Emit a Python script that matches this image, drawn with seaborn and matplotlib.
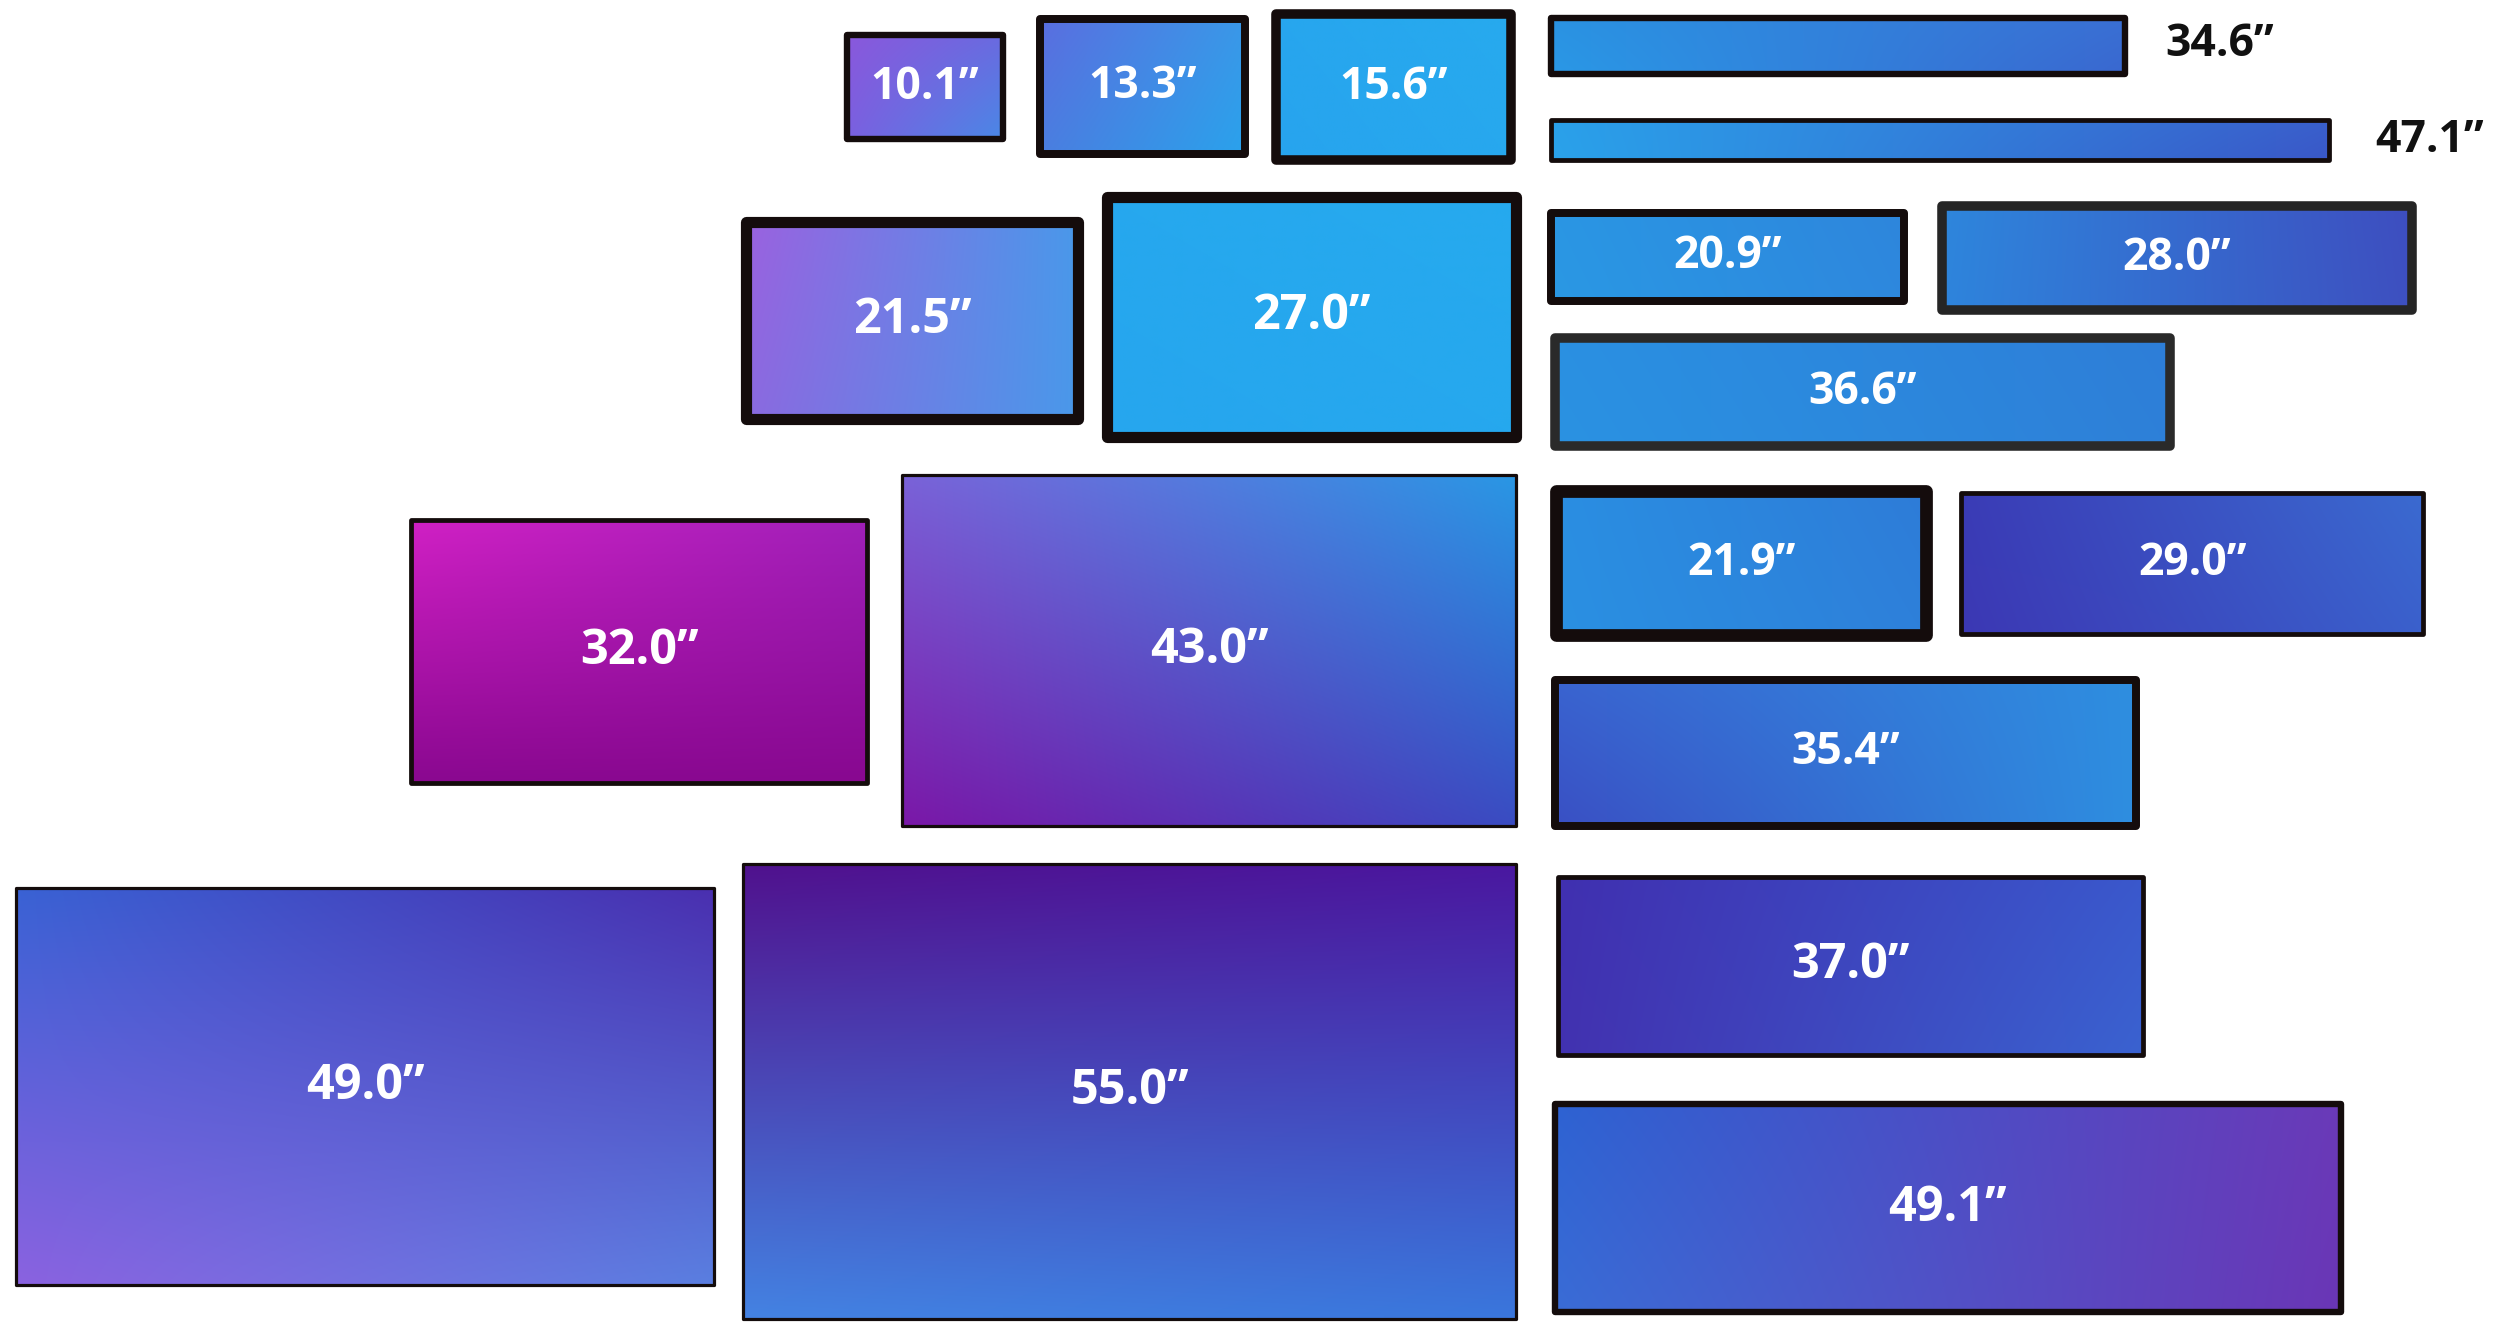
import numpy as np
import matplotlib
matplotlib.use("Agg")
import matplotlib.pyplot as plt
import seaborn as sns
from matplotlib.patches import Rectangle
from matplotlib.colors import to_rgb

sns.set_theme(style="white")
plt.rcParams['font.family'] = ['Open Sans', 'DejaVu Sans']

labels = ["10.1", "13.3", "15.6", "34.6", "47.1", "21.5", "27.0", "20.9", "28.0", "36.6",
          "21.9", "29.0", "32.0", "43.0", "35.4", "49.0", "55.0", "37.0", "49.1"]
x0 = [531, 652, 800, 973, 973, 468, 694, 973, 1218, 975, 976, 1230, 258, 566, 975, 10, 466, 977, 975]
y0 = [22, 12, 9, 11, 75, 139, 123, 133, 129, 211, 307, 308, 325, 297, 425, 555, 540, 548, 690]
x1 = [629, 781, 948, 1333, 1461, 676, 951, 1194, 1513, 1361, 1208, 1520, 544, 951, 1340, 448, 951, 1344, 1468]
y1 = [87, 96, 100, 46, 100, 262, 273, 188, 194, 279, 397, 396, 489, 516, 516, 803, 824, 659, 820]
border = [4, 5, 6, 4, 3, 7, 7, 5, 6, 6, 8, 3, 3, 2, 5, 2, 2, 3, 4]
edge = ["#140c0c"] * 8 + ["#252525", "#2a2a2a"] + ["#140c0c"] * 9
c_tl = ["#8a58dc", "#5a6ee0", "#27a6ee", "#2a92e2", "#2aa0ea", "#9a62e0", "#26a8ee", "#2a96e4", "#2e86dc", "#2a90e2",
        "#2a8ee2", "#3a3cb6", "#d020c4", "#7a62d8", "#3a64d0", "#3a62d4", "#50128e", "#4030b0", "#2e62d2"]
c_tr = ["#6a6ae0", "#3a98e8", "#27aaee", "#3a70d4", "#3a60cc", "#4a98ea", "#26aaee", "#2e86dc", "#3e4ec0", "#2e7ed8",
        "#2e7cd8", "#3a6ad0", "#a020b8", "#2a96e4", "#2e8ee0", "#4a30b0", "#4a18a0", "#3a58cc", "#6a3ab8"]
c_bl = ["#7a60e0", "#4a7ee0", "#27a4ee", "#2a98e6", "#2aa2ea", "#8a6ae0", "#26a6ee", "#2a98e4", "#2e84dc", "#2a92e2",
        "#2a90e2", "#3c38b4", "#8a0890", "#7a18a8", "#3a50c4", "#8a62e0", "#4482e2", "#4232b0", "#3a6cd6"]
c_br = ["#4a88e6", "#2aa2ec", "#27a8ee", "#3a68d0", "#3a58c8", "#4a98ea", "#26a8ee", "#2e88de", "#3e50c0", "#2e80d8",
        "#2e80da", "#3a60cc", "#880890", "#3a4cc2", "#2e8ee0", "#5a7ee0", "#3a76dc", "#3a62d0", "#6a36b6"]
outside = {"34.6": (1358, 28), "47.1": (1490, 88)}

fig = plt.figure(figsize=(25, 13.33), dpi=100)
ax = fig.add_axes([0, 0, 1, 1])
ax.set_xlim(0, 1568)
ax.set_ylim(833, 0)
ax.axis("off")

S = 1.594 / 1.389
n = 64
u = np.linspace(0, 1, n)
U, V = np.meshgrid(u, u)
for i, lab in enumerate(labels):
    tl, tr, bl, br = (np.array(to_rgb(c)) for c in (c_tl[i], c_tr[i], c_bl[i], c_br[i]))
    img = ((1 - U) * (1 - V))[..., None] * tl + (U * (1 - V))[..., None] * tr \
        + ((1 - U) * V)[..., None] * bl + (U * V)[..., None] * br
    ax.imshow(img, extent=(x0[i], x1[i], y1[i], y0[i]), origin="upper", aspect="auto",
              interpolation="bilinear", zorder=1)
    ax.add_patch(Rectangle((x0[i], y0[i]), x1[i] - x0[i], y1[i] - y0[i], fill=False,
                           edgecolor=edge[i], linewidth=border[i] * S, joinstyle="round", zorder=2))
    txt = lab + "\u201d"
    if lab in outside:
        tx, ty = outside[lab]
        ax.text(tx, ty, txt, color="#111111", fontsize=32, fontweight="bold", ha="left", va="center", zorder=3)
    else:
        h = y1[i] - y0[i]
        fs = 32 if h < 110 else 35
        ax.text((x0[i] + x1[i]) / 2, (y0[i] + y1[i]) / 2, txt, color="white", fontsize=fs,
                fontweight="bold", ha="center", va="center", zorder=3)

fig.savefig("out.png", dpi=100, facecolor="white")
